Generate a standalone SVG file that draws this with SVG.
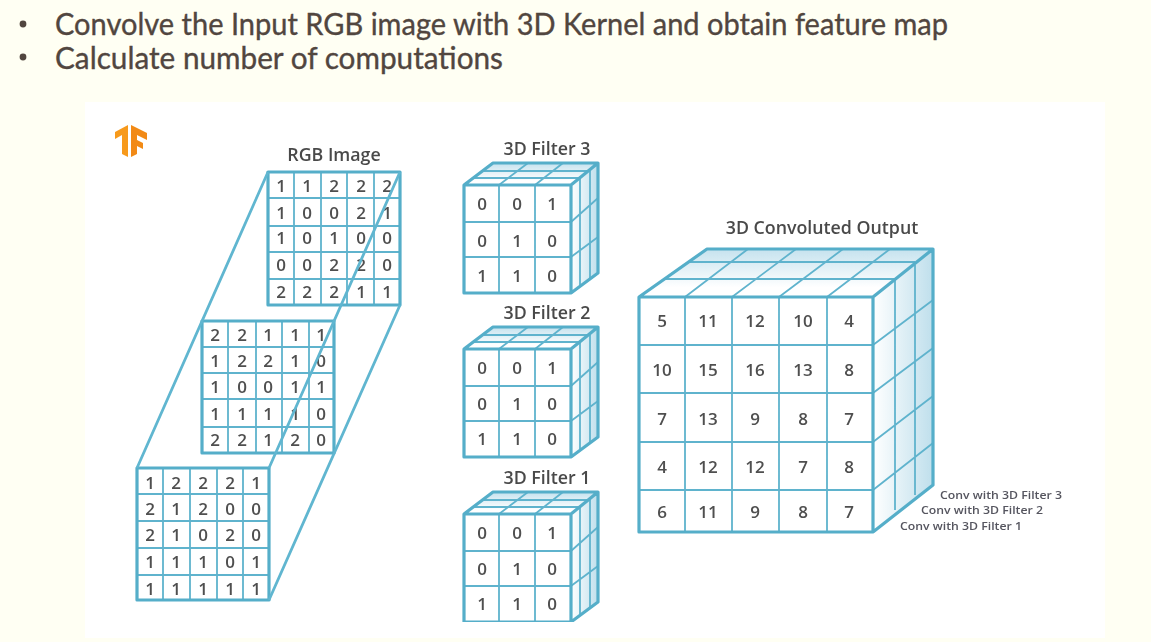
<svg xmlns="http://www.w3.org/2000/svg" width="1151" height="642" viewBox="0 0 1151 642">
<style>
.hd{font-family:"Lato","Liberation Sans",sans-serif;font-size:30px;fill:#51463f;stroke:#51463f;stroke-width:0.35}
.t{font-family:"Open Sans","Liberation Sans",sans-serif;font-size:17.8px;font-weight:600;fill:#4a4a4a;text-anchor:middle}
.n{font-family:"Open Sans","Liberation Sans",sans-serif;font-size:17px;font-weight:600;fill:#4f4f4f;text-anchor:middle}
.s{font-family:"Open Sans","Liberation Sans",sans-serif;font-size:11.5px;font-weight:600;fill:#55555f}
.o{fill:none;stroke:#55aec9;stroke-width:3.2;stroke-linejoin:round}
.i{fill:none;stroke:#5fb3cd;stroke-width:1.8}
.c{fill:none;stroke:#60b6d0;stroke-width:2.8}
</style>
<defs>
<linearGradient id="gt" x1="0" y1="1" x2="0" y2="0"><stop offset="0.2" stop-color="#ffffff"/><stop offset="1" stop-color="#c5e2ee"/></linearGradient>
<linearGradient id="gr" x1="0" y1="0" x2="1" y2="0"><stop offset="0" stop-color="#ffffff"/><stop offset="1" stop-color="#bfdfec"/></linearGradient>
<filter id="soft" x="0" y="0" width="1" height="1"><feGaussianBlur stdDeviation="0.45"/></filter>
<g id="filterCube">
<path d="M464 185L493 163H598L571 185Z" fill="url(#gt)"/>
<path d="M571 185L598 163V273L571 293Z" fill="url(#gr)"/>
<path class="i" d="M474 178H580M484 171H590M499 185L528 163M535 185L563 163M580 178V285M590 171V279M571 222L598 198M571 257L598 237M499 185V293M535 185V293M464 222H571M464 257H571"/>
<path class="o" d="M464 185H571V293H464ZM464 185L493 163H598L571 185M598 163V273L571 293"/>
</g>
</defs>
<rect id="background" width="1151" height="642" fill="#fffff3"/>
<g id="bullets">
<circle cx="23" cy="24" r="3.4" fill="#51463f"/>
<circle cx="23" cy="57" r="3.4" fill="#51463f"/>
<text class="hd" x="55" y="35" textLength="893" lengthAdjust="spacingAndGlyphs">Convolve the Input RGB image with 3D Kernel and obtain feature map</text>
<text class="hd" x="55" y="69" textLength="448" lengthAdjust="spacingAndGlyphs">Calculate number of computations</text>
</g>
<rect id="panel" x="85" y="102" width="1020" height="536" fill="#ffffff"/>
<g filter="url(#soft)">
<g id="logo">
<path d="M128 125L115 132V139L122 135V154L128 157Z" fill="#f79a1f"/>
<path d="M131 125L147 133V140L137 135V140L143 143V149L137 146V154L131 157Z" fill="#f28a12"/>
</g>
<g id="rgb-back">
<text class="t" x="334" y="161">RGB Image</text>
<path class="i" d="M294 172V305M321 172V305M347 172V305M374 172V305M268 198H400M268 226H400M268 252H400M268 279H400"/>
<rect class="o" x="268" y="172" width="132" height="133"/>
<text class="n" x="281" y="192">1</text><text class="n" x="307" y="192">1</text><text class="n" x="334" y="192">2</text><text class="n" x="361" y="192">2</text><text class="n" x="387" y="192">2</text>
<text class="n" x="281" y="219">1</text><text class="n" x="307" y="219">0</text><text class="n" x="334" y="219">0</text><text class="n" x="361" y="219">2</text><text class="n" x="387" y="219">1</text>
<text class="n" x="281" y="244">1</text><text class="n" x="307" y="244">0</text><text class="n" x="334" y="244">1</text><text class="n" x="361" y="244">0</text><text class="n" x="387" y="244">0</text>
<text class="n" x="281" y="271">0</text><text class="n" x="307" y="271">0</text><text class="n" x="334" y="271">2</text><text class="n" x="361" y="271">2</text><text class="n" x="387" y="271">0</text>
<text class="n" x="281" y="298">2</text><text class="n" x="307" y="298">2</text><text class="n" x="334" y="298">2</text><text class="n" x="361" y="298">1</text><text class="n" x="387" y="298">1</text>
</g>
<g id="rgb-middle">
<path class="i" d="M228 321V453M256 321V453M282 321V453M309 321V453M202 347H334M202 373H334M202 399H334M202 427H334"/>
<rect class="o" x="202" y="321" width="132" height="132"/>
<text class="n" x="215" y="341">2</text><text class="n" x="242" y="341">2</text><text class="n" x="268" y="341">1</text><text class="n" x="295" y="341">1</text><text class="n" x="321" y="341">1</text>
<text class="n" x="215" y="367">1</text><text class="n" x="242" y="367">2</text><text class="n" x="268" y="367">2</text><text class="n" x="295" y="367">1</text><text class="n" x="321" y="367">0</text>
<text class="n" x="215" y="393">1</text><text class="n" x="242" y="393">0</text><text class="n" x="268" y="393">0</text><text class="n" x="295" y="393">1</text><text class="n" x="321" y="393">1</text>
<text class="n" x="215" y="420">1</text><text class="n" x="242" y="420">1</text><text class="n" x="268" y="420">1</text><text class="n" x="295" y="420">1</text><text class="n" x="321" y="420">0</text>
<text class="n" x="215" y="446">2</text><text class="n" x="242" y="446">2</text><text class="n" x="268" y="446">1</text><text class="n" x="295" y="446">2</text><text class="n" x="321" y="446">0</text>
</g>
<g id="rgb-front">
<path class="i" d="M163 468V600M190 468V600M217 468V600M243 468V600M137 494H269M137 521H269M137 548H269M137 575H269"/>
<rect class="o" x="137" y="468" width="132" height="132"/>
<text class="n" x="150" y="489">1</text><text class="n" x="176" y="489">2</text><text class="n" x="203" y="489">2</text><text class="n" x="230" y="489">2</text><text class="n" x="256" y="489">1</text>
<text class="n" x="150" y="515">2</text><text class="n" x="176" y="515">1</text><text class="n" x="203" y="515">2</text><text class="n" x="230" y="515">0</text><text class="n" x="256" y="515">0</text>
<text class="n" x="150" y="541">2</text><text class="n" x="176" y="541">1</text><text class="n" x="203" y="541">0</text><text class="n" x="230" y="541">2</text><text class="n" x="256" y="541">0</text>
<text class="n" x="150" y="568">1</text><text class="n" x="176" y="568">1</text><text class="n" x="203" y="568">1</text><text class="n" x="230" y="568">0</text><text class="n" x="256" y="568">1</text>
<text class="n" x="150" y="595">1</text><text class="n" x="176" y="595">1</text><text class="n" x="203" y="595">1</text><text class="n" x="230" y="595">1</text><text class="n" x="256" y="595">1</text>
</g>
<g id="connectors">
<path class="c" d="M268 172L137 468M400 172L269 468M400 305L269 600"/>
</g>
<g id="filter-3">
<text class="t" x="547" y="155">3D Filter 3</text>
<use href="#filterCube"/>
<text class="n" x="482" y="210">0</text><text class="n" x="517" y="210">0</text><text class="n" x="552" y="210">1</text>
<text class="n" x="482" y="247">0</text><text class="n" x="517" y="247">1</text><text class="n" x="552" y="247">0</text>
<text class="n" x="482" y="282">1</text><text class="n" x="517" y="282">1</text><text class="n" x="552" y="282">0</text>
</g>
<g id="filter-2">
<text class="t" x="547" y="319">3D Filter 2</text>
<use href="#filterCube" y="164"/>
<text class="n" x="482" y="374">0</text><text class="n" x="517" y="374">0</text><text class="n" x="552" y="374">1</text>
<text class="n" x="482" y="410">0</text><text class="n" x="517" y="410">1</text><text class="n" x="552" y="410">0</text>
<text class="n" x="482" y="445">1</text><text class="n" x="517" y="445">1</text><text class="n" x="552" y="445">0</text>
</g>
<g id="filter-1">
<text class="t" x="547" y="484">3D Filter 1</text>
<use href="#filterCube" y="329"/>
<text class="n" x="482" y="539">0</text><text class="n" x="517" y="539">0</text><text class="n" x="552" y="539">1</text>
<text class="n" x="482" y="575">0</text><text class="n" x="517" y="575">1</text><text class="n" x="552" y="575">0</text>
<text class="n" x="482" y="610">1</text><text class="n" x="517" y="610">1</text><text class="n" x="552" y="610">0</text>
</g>
<g id="output">
<text class="t" x="822" y="234">3D Convoluted Output</text>
<path d="M639 297L707 249H933L873 297Z" fill="url(#gt)"/>
<path d="M873 297L933 249V485L873 532Z" fill="url(#gr)"/>
<path class="i" d="M664 279H895M689 262H915M685 297L748 249M732 297L796 249M779 297L843 249M827 297L890 249M895 279V510M915 265V495M873 345L933 300M873 393L933 348M873 442L933 396M873 490L933 443M685 297V532M732 297V532M779 297V532M827 297V532M639 345H873M639 393H873M639 442H873M639 490H873"/>
<path class="o" d="M639 297H873V532H639ZM639 297L707 249H933L873 297M933 249V485L873 532"/>
<text class="n" x="662" y="327">5</text><text class="n" x="708" y="327">11</text><text class="n" x="755" y="327">12</text><text class="n" x="803" y="327">10</text><text class="n" x="849" y="327">4</text>
<text class="n" x="662" y="376">10</text><text class="n" x="708" y="376">15</text><text class="n" x="755" y="376">16</text><text class="n" x="803" y="376">13</text><text class="n" x="849" y="376">8</text>
<text class="n" x="662" y="425">7</text><text class="n" x="708" y="425">13</text><text class="n" x="755" y="425">9</text><text class="n" x="803" y="425">8</text><text class="n" x="849" y="425">7</text>
<text class="n" x="662" y="473">4</text><text class="n" x="708" y="473">12</text><text class="n" x="755" y="473">12</text><text class="n" x="803" y="473">7</text><text class="n" x="849" y="473">8</text>
<text class="n" x="662" y="518">6</text><text class="n" x="708" y="518">11</text><text class="n" x="755" y="518">9</text><text class="n" x="803" y="518">8</text><text class="n" x="849" y="518">7</text>
<text class="s" x="940" y="499" textLength="122" lengthAdjust="spacingAndGlyphs">Conv with 3D Filter 3</text>
<text class="s" x="921" y="514" textLength="122" lengthAdjust="spacingAndGlyphs">Conv with 3D Filter 2</text>
<text class="s" x="900" y="530" textLength="122" lengthAdjust="spacingAndGlyphs">Conv with 3D Filter 1</text>
</g>
</g>
</svg>
